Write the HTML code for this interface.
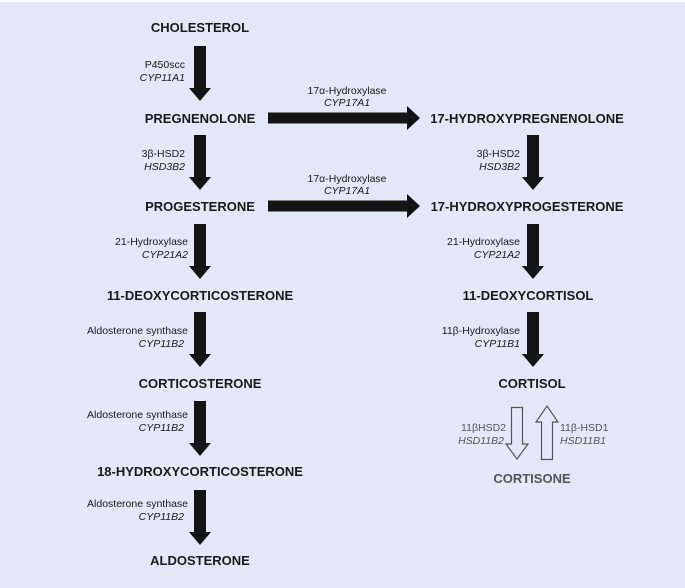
<!DOCTYPE html>
<html><head><meta charset="utf-8"><style>
html,body{margin:0;padding:0;background:#fff}
svg{display:block}
text{font-family:"Liberation Sans",sans-serif}
.t{font-size:13px;font-weight:bold;fill:#1a1a1a;text-anchor:middle}
.l{font-size:10.5px;fill:#1a1a1a;text-anchor:end}
.c{font-size:10.5px;fill:#1a1a1a;text-anchor:middle}
.i{font-style:italic}
.g{fill:#555}
</style></head><body>
<svg width="685" height="588" viewBox="0 0 685 588" xmlns="http://www.w3.org/2000/svg">
<rect x="0" y="0" width="685" height="588" fill="#e3e7f8"/>
<rect x="0" y="0" width="685" height="2" fill="#fff"/>
<defs>
<path id="dn" d="M-6,0 H6 V42 H11 L0,55 L-11,42 H-6 Z" fill="#141414"/>
<path id="rt" d="M0,-5.5 H139 V-12 L152,0 L139,12 V5.5 H0 Z" fill="#141414"/>
</defs>
<!-- left column -->
<text class="t" x="200" y="32">CHOLESTEROL</text>
<use href="#dn" x="200" y="46"/>
<text class="l" x="185" y="68">P450scc</text><text class="l i" x="185" y="81">CYP11A1</text>
<text class="t" x="200" y="123">PREGNENOLONE</text>
<use href="#dn" x="200" y="135"/>
<text class="l" x="185" y="157">3β-HSD2</text><text class="l i" x="185" y="170">HSD3B2</text>
<text class="t" x="200" y="211">PROGESTERONE</text>
<use href="#dn" x="200" y="224"/>
<text class="l" x="188" y="245">21-Hydroxylase</text><text class="l i" x="188" y="258">CYP21A2</text>
<text class="t" x="200" y="300">11-DEOXYCORTICOSTERONE</text>
<use href="#dn" x="200" y="312"/>
<text class="l" x="188" y="334">Aldosterone synthase</text><text class="l i" x="184" y="347">CYP11B2</text>
<text class="t" x="200" y="388">CORTICOSTERONE</text>
<use href="#dn" x="200" y="401"/>
<text class="l" x="188" y="418">Aldosterone synthase</text><text class="l i" x="184" y="431">CYP11B2</text>
<text class="t" x="200" y="476">18-HYDROXYCORTICOSTERONE</text>
<use href="#dn" x="200" y="490"/>
<text class="l" x="188" y="507">Aldosterone synthase</text><text class="l i" x="184" y="520">CYP11B2</text>
<text class="t" x="200" y="565">ALDOSTERONE</text>
<!-- horizontal -->
<use href="#rt" x="268" y="118"/>
<text class="c" x="347" y="94">17α-Hydroxylase</text><text class="c i" x="347" y="106">CYP17A1</text>
<use href="#rt" x="268" y="206"/>
<text class="c" x="347" y="182">17α-Hydroxylase</text><text class="c i" x="347" y="194">CYP17A1</text>
<!-- right column -->
<text class="t" x="527" y="123">17-HYDROXYPREGNENOLONE</text>
<use href="#dn" x="533" y="135"/>
<text class="l" x="520" y="157">3β-HSD2</text><text class="l i" x="520" y="170">HSD3B2</text>
<text class="t" x="527" y="211">17-HYDROXYPROGESTERONE</text>
<use href="#dn" x="533" y="224"/>
<text class="l" x="520" y="245">21-Hydroxylase</text><text class="l i" x="520" y="258">CYP21A2</text>
<text class="t" x="528" y="300">11-DEOXYCORTISOL</text>
<use href="#dn" x="533" y="312"/>
<text class="l" x="520" y="334">11β-Hydroxylase</text><text class="l i" x="520" y="347">CYP11B1</text>
<text class="t" x="532" y="388">CORTISOL</text>
<path d="M511.5,407.5 H522.5 V444 H528 L517,459 L506,444 H511.5 Z" fill="none" stroke="#555" stroke-width="1.2"/>
<path d="M541.5,459.5 H552.5 V422 H558 L547,406 L536,422 H541.5 Z" fill="none" stroke="#555" stroke-width="1.2"/>
<text class="l g" x="506" y="431">11βHSD2</text><text class="l g i" x="504" y="444">HSD11B2</text>
<text class="g" x="560" y="431" style="font-size:10.5px">11β-HSD1</text><text class="g i" x="560" y="444" style="font-size:10.5px">HSD11B1</text>
<text class="t g" x="532" y="483">CORTISONE</text>
</svg>
</body></html>
